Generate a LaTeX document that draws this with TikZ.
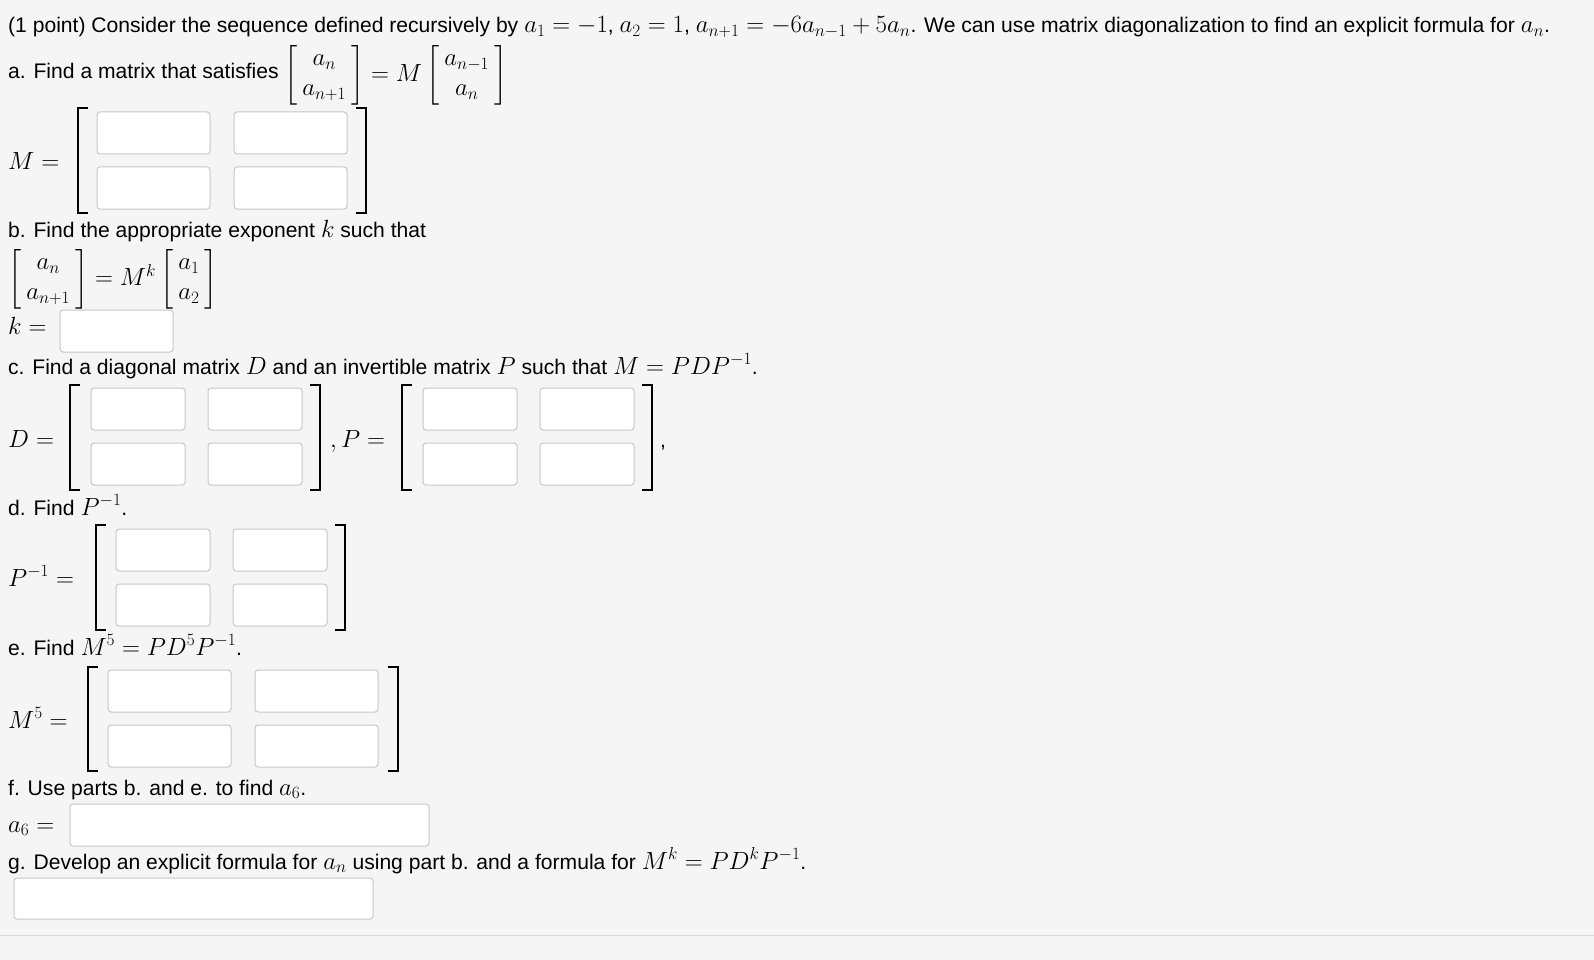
\documentclass[tikz,border=0pt]{standalone}
\usepackage{amsmath}
\usepackage{fontspec}
\setmainfont{Liberation Sans}
\newcommand{\mm}[1]{{\fontsize{24.5}{28}\selectfont$#1$}}
\begin{document}
\begin{tikzpicture}[x=1pt,y=-1pt,
  txt/.style={anchor=base west,inner sep=0pt,font=\fontsize{21.1}{24}\selectfont},
  box/.style={draw=black!22,fill=white,rounded corners=3pt,line width=1pt},
  brk/.style={line width=1.3pt}]
\fill[black!4] (0,0) rectangle (1594,960);
\useasboundingbox (0,0) rectangle (1594,960);
\draw[black!15] (0,935) -- (1594,935);
\newcommand{\bx}[4]{\draw[box] (#1,#3) rectangle (#2,#4);}
\newcommand{\mbr}[4]{\draw[brk] (#1+10,#3) -- (#1,#3) -- (#1,#4) -- (#1+10,#4); \draw[brk] (#2-10,#3) -- (#2,#3) -- (#2,#4) -- (#2-10,#4);}
\node[txt] (t0) at (8,33) {(1 point) Consider the sequence defined recursively by \mm{a_1=-1}, \mm{a_2=1}, \mm{a_{n+1}=-6a_{n-1}+5a_n}. We can use matrix diagonalization to find an explicit formula for \mm{a_n}.};
\node[txt] (ta) at (8,79) {a. Find a matrix that satisfies};
\node[anchor=west,inner sep=0pt] (ea) at (284,75) {\mm{\left[\begin{array}{c} a_n\\[2pt] a_{n+1}\end{array}\right]=M\left[\begin{array}{c} a_{n-1}\\[2pt] a_n\end{array}\right]}};
\node[txt] (m) at (8,170) {\mm{M=}};
\mbr{78}{366}{108}{213}
\bx{97}{210}{112}{154}\bx{234}{347}{112}{154}
\bx{97}{210}{167}{209}\bx{234}{347}{167}{209}
\node[txt] (tb) at (8,237) {b. Find the appropriate exponent \mm{k} such that};
\node[anchor=west,inner sep=0pt] (eb) at (8,279) {\mm{\left[\begin{array}{c} a_n\\[2pt] a_{n+1}\end{array}\right]=M^k\left[\begin{array}{c} a_1\\[2pt] a_2\end{array}\right]}};
\node[txt] (k) at (8,334) {\mm{k=}};
\bx{60}{173}{310}{352}
\node[txt] (tc) at (8,374) {c. Find a diagonal matrix \mm{D} and an invertible matrix \mm{P} such that \mm{M=PDP^{-1}}.};
\node[txt] (d) at (8,447) {\mm{D=}};
\mbr{70}{320}{385}{490}
\bx{91}{185}{388}{430}\bx{208}{302}{388}{430}
\bx{91}{185}{443}{485}\bx{208}{302}{443}{485}
\node[txt] (p) at (330,447) {\mm{,P=}};
\mbr{402}{652}{385}{490}
\bx{423}{517}{388}{430}\bx{540}{634}{388}{430}
\bx{423}{517}{443}{485}\bx{540}{634}{443}{485}
\node[txt] (cm) at (660,447) {,};
\node[txt] (td) at (8,515) {d. Find \mm{P^{-1}}.};
\node[txt] (pi) at (8,586) {\mm{P^{-1}=}};
\mbr{96}{345}{525}{630}
\bx{116}{210}{529}{571}\bx{233}{327}{529}{571}
\bx{116}{210}{584}{626}\bx{233}{327}{584}{626}
\node[txt] (te) at (8,655) {e. Find \mm{M^5=PD^5P^{-1}}.};
\node[txt] (m5) at (8,728) {\mm{M^5=}};
\mbr{88}{398}{667}{771}
\bx{108}{231}{670}{712}\bx{255}{378}{670}{712}
\bx{108}{231}{725}{767}\bx{255}{378}{725}{767}
\node[txt] (tf) at (8,795) {f. Use parts b. and e. to find \mm{a_6}.};
\node[txt] (a6) at (8,832) {\mm{a_6=}};
\bx{70}{429}{804}{846}
\node[txt] (tg) at (8,869) {g. Develop an explicit formula for \mm{a_n} using part b. and a formula for \mm{M^k=PD^kP^{-1}}.};
\bx{14}{373}{878}{919}
\end{tikzpicture}
\end{document}
